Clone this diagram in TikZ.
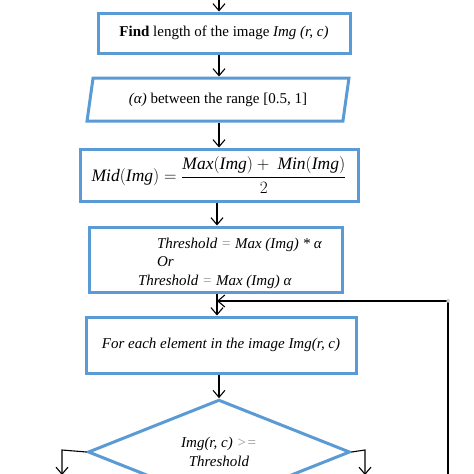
\documentclass[tikz,border=0pt]{standalone}
\usepackage{fontspec}
\setmainfont{Liberation Serif}
\usetikzlibrary{shapes.geometric,arrows.meta,calc}
\definecolor{boxblue}{RGB}{91,155,213}
\definecolor{eqgray}{RGB}{150,150,150}
\tikzset{
  blk/.style={draw=boxblue,line width=3pt,fill=white,inner sep=2pt,font=\fontsize{15}{18.5}\selectfont},
  procbox/.style={blk,rectangle},
  iobox/.style={blk,trapezium,trapezium left angle=76,trapezium right angle=104,trapezium stretches=true},
  decbox/.style={blk,diamond,inner sep=0pt},
  flow/.style={draw=black,line width=1.1pt,-{Straight Barb[length=7pt,width=12pt,line width=1.1pt]}},
  plain/.style={draw=black,line width=1.1pt}
}
\begin{document}
\begin{tikzpicture}[x=1pt,y=-1pt]
\useasboundingbox (0,0) rectangle (474,474);
\coordinate (col) at (217,0);
\coordinate (top) at (219,0);
\node[procbox,minimum width=252pt,minimum height=40pt] (find) at (224,33)
  {\textbf{Find} length of the image \textit{Img (r, c)}};
\node[iobox,minimum width=262pt,minimum height=43pt] (range) at (218,99.5)
  {\textit{(α)} between the range [0.5, 1]};
\node[procbox,minimum width=278pt,minimum height=52pt,font=\fontsize{17.5}{20}\selectfont] (mid) at (219,175)
  {$\displaystyle\mathit{Mid}(\mathit{Img}) = \frac{\mathit{Max}(\mathit{Img}) +\ \mathit{Min}(\mathit{Img})}{2}$};
\node[procbox,minimum width=253pt,minimum height=65pt,align=left] (thr) at (215.5,259.5)
  {\rule{0pt}{18pt}\hspace*{48pt}\textit{Threshold {\color{eqgray}=} Max (Img) * α}\\
   \hspace*{48pt}\textit{Or}\\
   \hspace*{29pt}\textit{Threshold {\color{eqgray}=} Max (Img) α}};
\node[procbox,minimum width=270pt,minimum height=56pt] (each) at (221,345)
  {\textit{For each element in the image Img(r, c)}};
\node[decbox,minimum width=262pt,minimum height=98pt,align=center] (cmp) at (219,452)
  {\textit{Img(r, c) {\color{eqgray}>=}}\\\textit{Threshold}};
\coordinate (fb) at (448,301);
\coordinate (fbend) at (448,476);
\coordinate (lcorner) at (62,450);
\coordinate (lend) at (62,475);
\coordinate (rcorner) at (365,450);
\coordinate (rend) at (365,475);
\draw[flow] (top) -- (find.north -| top);
\draw[flow] (find.south -| top) -- (range.north -| top);
\draw[flow] (range.south -| top) -- (mid.north -| top);
\draw[flow] (mid.south -| col) -- (thr.north -| col);
\draw[flow] (thr.south -| col) -- (each.north -| col);
\draw[flow] (each.south -| top) -- (cmp.north);
\draw[flow] (fbend) -- (fb) -- (fb -| col);
\draw[plain,draw=eqgray,fill=white,line width=0.5pt] (fb) circle (1.6pt);
\draw[flow] (cmp.west) -- (lcorner) -- (lend);
\draw[flow] (cmp.east) -- (rcorner) -- (rend);
\end{tikzpicture}
\end{document}
